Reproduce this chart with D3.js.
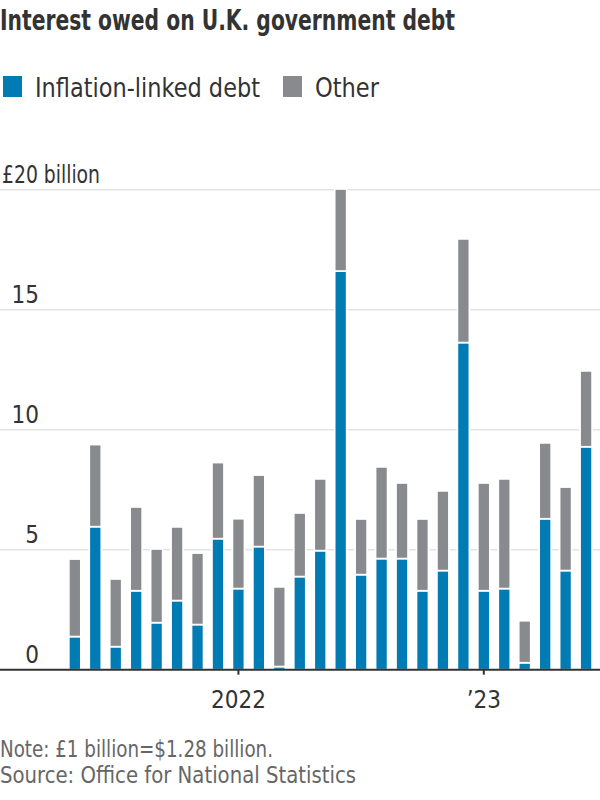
<!DOCTYPE html>
<html>
<head>
<meta charset="utf-8">
<script src="https://cdn.jsdelivr.net/npm/d3@7"></script>
<style>
  body { margin: 0; background: #fff; }
  svg text { font-family: "Liberation Sans Narrow", "DejaVu Sans Condensed", "Roboto", sans-serif; }
</style>
</head>
<body>
<svg id="mySvg" width="600" height="800"></svg>
<script>
var svg = d3.select("#mySvg");

// monthly, May 2021 .. June 2023
const months = ["2021-05", "2021-06", "2021-07", "2021-08", "2021-09", "2021-10", "2021-11", "2021-12",
    "2022-01", "2022-02", "2022-03", "2022-04", "2022-05", "2022-06", "2022-07", "2022-08", "2022-09",
    "2022-10", "2022-11", "2022-12", "2023-01", "2023-02", "2023-03", "2023-04", "2023-05", "2023-06"];
const inflationLinked = [1.38, 5.96, 0.96, 3.29, 1.96, 2.88, 1.88, 5.46, 3.38, 5.13, 0.13, 3.88, 4.96,
    16.61, 3.96, 4.63, 4.63, 3.29, 4.13, 13.63, 3.29, 3.38, 0.29, 6.29, 4.13, 9.29];
const other = [3.23, 3.42, 2.82, 3.49, 3.07, 3.07, 2.98, 3.17, 2.91, 2.98, 3.32, 2.65, 2.99,
    3.42, 2.32, 3.82, 3.15, 2.99, 3.32, 4.32, 4.49, 4.57, 1.75, 3.16, 3.48, 3.16];
const yTicks = [0, 5, 10, 15, 20];
const xTicks = [{ month: "2022-01", label: "2022" }, { month: "2023-01", label: "\u201923" }];

const blue = "#007bb4";
const gray = "#898a8e";
const textColor = "#333";

const chartLeft = 0;
const chartRight = 600;
const chartTop = 189.7;
const chartBottom = 669.7;

var x = d3.scaleBand()
    .domain(months)
    .range([64.6, 596.3])
    .paddingInner(0.413)
    .paddingOuter(0.2065);

var y = d3.scaleLinear()
    .domain([0, 20])
    .range([chartBottom, chartTop]);

// title
svg.append("text")
    .attr("x", 0)
    .attr("y", 30)
    .attr("font-size", 28)
    .attr("font-weight", "bold")
    .attr("fill", textColor)
    .attr("textLength", 455)
    .attr("lengthAdjust", "spacingAndGlyphs")
    .text("Interest owed on U.K. government debt");

// legend
const legendItems = [
    { label: "Inflation-linked debt", color: blue, x: 3, width: 225 },
    { label: "Other", color: gray, x: 283, width: 64 }
];
legendItems.forEach(function (d) {
    svg.append("rect")
        .attr("x", d.x)
        .attr("y", 76)
        .attr("width", 19)
        .attr("height", 21)
        .attr("fill", d.color);
    svg.append("text")
        .attr("x", d.x + 32)
        .attr("y", 97)
        .attr("font-size", 27)
        .attr("fill", textColor)
        .attr("textLength", d.width)
        .attr("lengthAdjust", "spacingAndGlyphs")
        .text(d.label);
});

// gridlines
svg.append("g")
    .selectAll("line")
    .data(yTicks.filter(function (d) { return d > 0; }))
    .join("line")
    .attr("x1", chartLeft)
    .attr("x2", chartRight)
    .attr("y1", function (d) { return y(d); })
    .attr("y2", function (d) { return y(d); })
    .attr("stroke", "#e3e3e3")
    .attr("stroke-width", 1.5);

// y labels
svg.append("g")
    .selectAll("text")
    .data(yTicks.filter(function (d) { return d < 20; }))
    .join("text")
    .attr("x", 39)
    .attr("y", function (d) { return y(d) - 7; })
    .attr("text-anchor", "end")
    .attr("font-size", 24)
    .attr("fill", textColor)
    .text(function (d) { return d; });

svg.append("text")
    .attr("x", 2)
    .attr("y", y(20) - 7)
    .attr("font-size", 24)
    .attr("fill", textColor)
    .attr("textLength", 98)
    .attr("lengthAdjust", "spacingAndGlyphs")
    .text("\u00a3" + yTicks[yTicks.length - 1] + " billion");

// bars
var bars = svg.append("g");
bars.selectAll("rect.inflation")
    .data(months)
    .join("rect")
    .attr("class", "inflation")
    .attr("x", function (d) { return x(d); })
    .attr("width", x.bandwidth())
    .attr("y", function (d, i) { return y(inflationLinked[i]); })
    .attr("height", function (d, i) { return y(0) - y(inflationLinked[i]); })
    .attr("fill", blue)
    .attr("stroke", "#fff")
    .attr("stroke-width", 1.7);

bars.selectAll("rect.other")
    .data(months)
    .join("rect")
    .attr("class", "other")
    .attr("x", function (d) { return x(d); })
    .attr("width", x.bandwidth())
    .attr("y", function (d, i) { return y(inflationLinked[i] + other[i]); })
    .attr("height", function (d, i) { return y(inflationLinked[i]) - y(inflationLinked[i] + other[i]); })
    .attr("fill", gray)
    .attr("stroke", "#fff")
    .attr("stroke-width", 1.7);

// baseline
svg.append("line")
    .attr("x1", chartLeft)
    .attr("x2", chartRight)
    .attr("y1", y(0))
    .attr("y2", y(0))
    .attr("stroke", "#333")
    .attr("stroke-width", 2);

// x ticks
xTicks.forEach(function (t) {
    var cx = x(t.month) + x.bandwidth() / 2;
    svg.append("line")
        .attr("x1", cx)
        .attr("x2", cx)
        .attr("y1", y(0))
        .attr("y2", y(0) + 5)
        .attr("stroke", "#333")
        .attr("stroke-width", 2);
    svg.append("text")
        .attr("x", cx)
        .attr("y", 708)
        .attr("text-anchor", "middle")
        .attr("font-size", 24)
        .attr("fill", textColor)
        .text(t.label);
});

// footer
svg.append("text")
    .attr("x", 0)
    .attr("y", 757)
    .attr("font-size", 23)
    .attr("fill", "#666")
    .attr("textLength", 273)
    .attr("lengthAdjust", "spacingAndGlyphs")
    .text("Note: \u00a31 billion=$1.28 billion.");

svg.append("text")
    .attr("x", 0)
    .attr("y", 783)
    .attr("font-size", 23)
    .attr("fill", "#666")
    .attr("textLength", 356)
    .attr("lengthAdjust", "spacingAndGlyphs")
    .text("Source: Office for National Statistics");
</script>
</body>
</html>
